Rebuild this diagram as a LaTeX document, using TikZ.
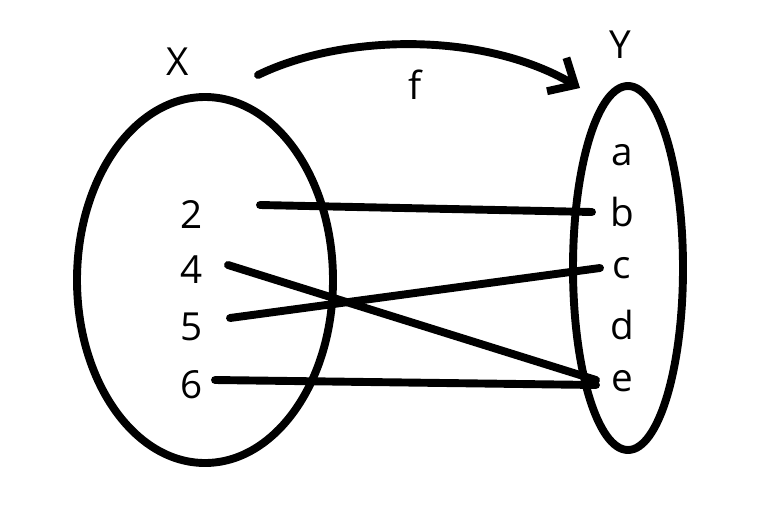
\documentclass[tikz,border=0pt]{standalone}
\usepackage{fontspec}
\setmainfont{Open Sans}
\usetikzlibrary{arrows.meta}
\begin{document}
\begin{tikzpicture}[x=0.02cm,y=-0.02cm,
  thick line/.style={line width=4.5pt,line cap=round},
  lbl/.style={font=\fontsize{22}{24}\selectfont,inner sep=0pt}]
\useasboundingbox (0,0) rectangle (784,524);
\draw[thick line] (205,280) ellipse [x radius=128, y radius=183];
\draw[thick line] (628,268) ellipse [x radius=55, y radius=182];
\node[lbl] (X) at (178,62) {X};
\node[lbl] (Y) at (620,45) {Y};
\node[lbl] (f) at (415,85) {f};
\foreach \n/\y in {2/215,4/270,5/327,6/385} \node[lbl] (n\n) at (192,\y) {\n};
\foreach \l/\y in {a/155,b/212,c/268,d/325,e/381} \node[lbl] (l\l) at (622,\y) {\l};
\coordinate (s2) at (260,205); \coordinate (t2) at (592,212);
\coordinate (s4) at (228,265); \coordinate (t4) at (596,380);
\coordinate (s5) at (230,318); \coordinate (t5) at (600,268);
\coordinate (s6) at (215,380); \coordinate (t6) at (596,385);
\draw[thick line] (s2) -- (t2);
\draw[thick line] (s4) -- (t4);
\draw[thick line] (s5) -- (t5);
\draw[thick line] (s6) -- (t6);
\coordinate (fa) at (258,75); \coordinate (fb) at (580,88);
\draw[thick line,-{Straight Barb[length=12pt,width=22pt,line width=4.5pt]}] (fa) .. controls (340,35) and (480,30) .. (fb);
\end{tikzpicture}
\end{document}
